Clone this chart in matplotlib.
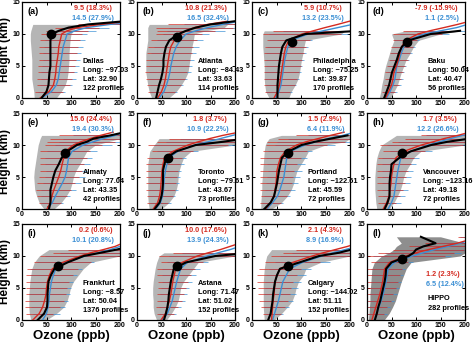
import numpy as np
import matplotlib
matplotlib.use('Agg')
import matplotlib.pyplot as plt

plt.rcParams['font.family'] = ['Liberation Sans', 'DejaVu Sans']
plt.rcParams['font.weight'] = 'bold'

nan = np.nan

heights = [0, 1, 2, 3, 4, 5, 6, 7, 8, 9, 10, 10.5, 11, 11.5, 12, 13]

labels = ['(a)', '(b)', '(c)', '(d)', '(e)', '(f)', '(g)', '(h)', '(i)', '(j)', '(k)', '(l)']
cities = ['Dallas', 'Atlanta', 'Philadelphia', 'Baku', 'Almaty', 'Toronto',
          'Portland', 'Vancouver', 'Frankfurt', 'Astana', 'Calgary', 'HIPPO']
longs = ['\u221297.03', '\u221284.43', '\u221275.25', '50.04', '77.04', '\u221279.61',
         '\u2212122.61', '\u2212123.16', '\u22128.57', '71.47', '\u2212144.02', None]
lats = ['32.90', '33.63', '39.87', '40.47', '43.35', '43.67',
        '45.59', '49.18', '50.04', '51.02', '51.11', None]
profiles = [122, 114, 170, 56, 42, 73, 72, 72, 1376, 152, 152, 282]
red_txt = ['9.5 (18.3%)', '10.8 (21.3%)', '5.9 (10.7%)', '-7.9 (-15.9%)',
           '15.6 (24.4%)', '1.8 (3.7%)', '1.5 (2.9%)', '1.7 (3.5%)',
           '0.2 (0.6%)', '10.0 (17.6%)', '2.1 (4.3%)', '1.2 (2.3%)']
blue_txt = ['14.5 (27.9%)', '16.5 (32.4%)', '13.2 (23.5%)', '1.1 (2.5%)',
            '19.4 (30.3%)', '10.9 (22.2%)', '6.4 (11.9%)', '12.2 (26.6%)',
            '10.1 (20.8%)', '13.9 (24.3%)', '8.9 (16.9%)', '6.5 (12.4%)']
dot_x = [60, 81, 81, 81, 88, 63, 73, 71, 74, 82, 73, 72]
dot_y = [10.0, 9.6, 8.8, 8.8, 8.7, 8.0, 8.7, 8.7, 8.4, 8.5, 8.4, 9.5]

# observed mean (black)
obs = [
    [40, 50, 54, 55, 56, 58, 58, 58, 58, 58, 61, 75, 95, 135, 210, nan],
    [39, 42, 45, 49, 52, 54, 54, 56, 59, 66, 85, 100, 120, 150, 200, nan],
    [52, 52, 52, 53, 54, 55, 57, 59, 62, 70, 109, 220, nan, nan, nan, nan],
    [35, 40, 45, 48, 51, 56, 61, 65, 71, 85, 130, 190, nan, nan, nan, nan],
    [55, 58, 58, 58, 61, 64, 68, 75, 81, 92, 112, 132, 146, 180, 210, nan],
    [36, 46, 50, 52, 53, 53, 53, 56, 60, 80, 120, 175, 220, nan, nan, nan],
    [25, 38, 45, 48, 51, 53, 55, 58, 61, 75, 101, 128, 161, 195, nan, nan],
    [36, 42, 46, 46, 46, 47, 49, 50, 66, 89, 131, 164, 210, nan, nan, nan],
    [32, 45, 51, 52, 52, 53, 54, 59, 66, 93, 126, 160, 193, 220, nan, nan],
    [55, 59, 62, 64, 65, 67, 69, 72, 75, 100, 160, 230, nan, nan, nan, nan],
    [33, 38, 40, 42, 43, 45, 47, 51, 57, 97, 137, 177, 203, nan, nan, nan],
    [16, 20, 23, 27, 30, 33, 36, 38, 39, 50, 85, 95, 100, 115, 140, 110],
]
# observed spread, left and right edge (gray)
gray_lo = [
    [25, 24, 22, 20, 20, 20, 20, 19, 18, 17, 17, 18, 20, 22, nan, nan],
    [30, 25, 22, 20, 18, 18, 18, 18, 20, 22, 22, 22, 22, 25, nan, nan],
    [35, 28, 26, 25, 25, 25, 24, 23, 22, 22, 22, 25, nan, nan, nan, nan],
    [25, 28, 30, 33, 35, 38, 42, 46, 50, 55, 50, 80, nan, nan, nan, nan],
    [45, 35, 30, 26, 25, 24, 25, 27, 29, 31, 33, 35, 37, 40, nan, nan],
    [25, 23, 22, 22, 22, 22, 22, 22, 24, 26, 35, 40, 45, nan, nan, nan],
    [18, 18, 19, 20, 20, 21, 22, 23, 24, 25, 27, 30, 35, 60, nan, nan],
    [20, 18, 17, 16, 16, 16, 17, 18, 20, 24, 30, 40, 50, 60, nan, nan],
    [18, 15, 14, 14, 14, 15, 16, 18, 20, 25, 35, 45, 55, nan, nan, nan],
    [40, 35, 33, 33, 32, 32, 33, 35, 37, 40, 45, 55, nan, nan, nan, nan],
    [25, 24, 23, 23, 23, 23, 23, 24, 25, 27, 30, 35, 40, nan, nan, nan],
    [3, 4, 5, 6, 6, 7, 8, 9, 10, 15, 30, 45, 55, 60, 70, 60],
]
gray_hi = [
    [70, 80, 88, 92, 94, 95, 96, 96, 97, 98, 100, 105, 110, 115, nan, nan],
    [65, 80, 90, 98, 104, 106, 108, 110, 112, 115, 117, 140, 178, 185, nan, nan],
    [75, 80, 88, 94, 97, 99, 101, 104, 106, 109, 182, 190, nan, nan, nan, nan],
    [48, 55, 62, 66, 70, 75, 80, 88, 95, 105, 150, 190, nan, nan, nan, nan],
    [65, 80, 90, 98, 102, 105, 110, 118, 125, 132, 150, 175, 200, 210, nan, nan],
    [50, 65, 75, 80, 83, 84, 86, 90, 95, 110, 200, 210, 210, nan, nan, nan],
    [40, 60, 72, 80, 85, 88, 92, 100, 108, 115, 150, 190, 200, 200, nan, nan],
    [45, 55, 62, 68, 72, 75, 80, 88, 95, 110, 200, 210, 210, 210, nan, nan],
    [50, 70, 85, 92, 96, 99, 105, 115, 125, 140, 200, 200, 200, nan, nan, nan],
    [60, 70, 78, 84, 87, 89, 95, 105, 115, 125, 200, 200, nan, nan, nan, nan],
    [45, 60, 72, 82, 87, 90, 95, 105, 110, 140, 200, 200, 200, nan, nan, nan],
    [35, 45, 52, 58, 62, 66, 70, 75, 80, 90, 190, 200, 200, 200, 200, 150],
]
# model runs
red = [
    [37, 55, 64, 67, 69, 70, 72, 74, 75, 78, 81, 92, 112, 160, 220, nan],
    [42, 50, 55, 58, 60, 62, 64, 66, 69, 76, 86, 100, 117, 144, 185, nan],
    [45, 52, 56, 58, 60, 62, 64, 66, 69, 75, 102, 125, 149, 175, 199, nan],
    [38, 44, 50, 53, 55, 60, 64, 67, 71, 78, 104, 128, 157, 185, 210, nan],
    [51, 58, 61, 65, 70, 75, 79, 82, 85, 88, 105, 120, 139, 160, 186, nan],
    [33, 42, 46, 48, 49, 50, 51, 53, 56, 73, 104, 125, 148, 175, 208, nan],
    [28, 38, 45, 47, 49, 50, 51, 54, 58, 68, 91, 110, 135, 160, 188, nan],
    [33, 40, 45, 47, 49, 50, 52, 55, 59, 75, 111, 135, 157, 185, 210, nan],
    [22, 35, 42, 46, 49, 50, 52, 56, 62, 83, 119, 140, 166, 190, 205, nan],
    [49, 58, 62, 66, 69, 71, 73, 76, 79, 92, 123, 145, 170, 190, 210, nan],
    [40, 41, 42, 43, 45, 46, 47, 51, 57, 83, 123, 145, 170, 195, 215, nan],
    [10, 14, 18, 22, 26, 29, 32, 34, 36, 46, 79, 100, 125, 155, 184, 230],
]
blue = [
    [40, 60, 70, 74, 76, 78, 80, 82, 84, 88, 92, 108, 132, 180, 240, nan],
    [45, 55, 60, 64, 67, 69, 72, 75, 80, 88, 100, 120, 144, 175, 210, nan],
    [48, 55, 59, 61, 63, 65, 67, 70, 73, 79, 115, 145, 175, 205, 230, nan],
    [40, 47, 53, 57, 59, 61, 66, 70, 75, 81, 117, 150, 183, 205, 225, nan],
    [52, 62, 68, 75, 82, 88, 91, 93, 95, 102, 125, 145, 166, 190, 210, nan],
    [38, 48, 52, 54, 55, 56, 58, 61, 65, 83, 118, 145, 170, 195, 220, nan],
    [30, 42, 52, 57, 61, 65, 67, 69, 71, 78, 108, 130, 155, 185, 210, nan],
    [43, 50, 55, 57, 59, 61, 63, 66, 69, 89, 125, 148, 170, 195, 220, nan],
    [42, 50, 53, 55, 56, 58, 60, 64, 69, 89, 129, 155, 180, 200, 220, nan],
    [50, 62, 67, 72, 75, 78, 81, 85, 89, 103, 143, 165, 190, 210, 230, nan],
    [42, 46, 50, 54, 57, 60, 63, 70, 77, 103, 143, 165, 190, 215, 230, nan],
    [16, 20, 24, 29, 33, 36, 39, 41, 43, 56, 92, 115, 138, 165, 190, 235],
]

RED = '#d42a20'
BLUE = '#3b8fd4'

W, H = 474, 345
fig = plt.figure(figsize=(W / 100, H / 100), dpi=100)
lefts = [22, 137, 252, 367]
bottoms = [98, 209, 320]

h = np.array(heights)
for k in range(12):
    r, c = divmod(k, 4)
    ax = fig.add_axes([lefts[c] / W, (H - bottoms[r]) / H, 98 / W, 96 / H])
    lo = np.array(gray_lo[k], dtype=float)
    hi = np.array(gray_hi[k], dtype=float)
    gcol = '#8e8e8e' if k == 11 else '#b5b5b5'
    ax.fill_betweenx(h, lo, hi, color=gcol, lw=0, zorder=1)
    half = (hi - lo) / 2
    rv = np.array(red[k], dtype=float)
    bv = np.array(blue[k], dtype=float)
    ax.hlines(h, bv - half, bv + half, color=BLUE, lw=0.6, alpha=0.8, zorder=2)
    ax.hlines(h, rv - half, rv + half, color=RED, lw=0.6, alpha=0.8, zorder=2)
    ax.plot(bv, h, color=BLUE, lw=1.0, zorder=3)
    ax.plot(rv, h, color=RED, lw=1.0, zorder=3)
    ax.plot(obs[k], h, color='black', lw=1.5, zorder=4)
    ax.plot(dot_x[k], dot_y[k], 'o', color='black', ms=6, zorder=5)

    ax.set_xlim(0, 200)
    ax.set_ylim(0, 15)
    ax.set_xticks([0, 50, 100, 150, 200])
    ax.set_yticks([0, 5, 10, 15])
    ax.tick_params(direction='in', length=2.5, width=0.7, labelsize=5,
                   pad=1.5, top=True, right=True)
    for lab in ax.get_xticklabels() + ax.get_yticklabels():
        lab.set_fontweight('bold')
    for s in ax.spines.values():
        s.set_linewidth(0.9)

    ax.text(0.06, 0.9, labels[k], transform=ax.transAxes, fontsize=6.5,
            fontweight='bold', va='center')
    if k < 11:
        ax.text(0.92, 0.93, red_txt[k], transform=ax.transAxes, fontsize=5.2,
                fontweight='bold', color=RED, ha='right', va='center')
        ax.text(0.94, 0.83, blue_txt[k], transform=ax.transAxes, fontsize=5.2,
                fontweight='bold', color=BLUE, ha='right', va='center')
        info = [cities[k], 'Long: ' + longs[k], 'Lat: ' + lats[k],
                '%d profiles' % profiles[k]]
        ys = [0.385, 0.285, 0.19, 0.095]
    else:
        ax.text(0.6, 0.47, red_txt[k], transform=ax.transAxes, fontsize=5.2,
                fontweight='bold', color=RED, va='center')
        ax.text(0.6, 0.375, blue_txt[k], transform=ax.transAxes, fontsize=5.2,
                fontweight='bold', color=BLUE, va='center')
        info = [cities[k], '%d profiles' % profiles[k]]
        ys = [0.225, 0.125]
    x0 = 0.57 if longs[k] is not None and len(longs[k]) > 6 else 0.62
    for txt, y in zip(info, ys):
        ax.text(x0, y, txt, transform=ax.transAxes, fontsize=5.3,
                fontweight='bold', va='center')

    if c == 0:
        ax.set_ylabel('Height (km)', fontsize=8.5, fontweight='bold', labelpad=1)
    if r == 2:
        ax.set_xlabel('Ozone (ppb)', fontsize=9.5, fontweight='bold', labelpad=1)

fig.savefig('out.png', dpi=100)
